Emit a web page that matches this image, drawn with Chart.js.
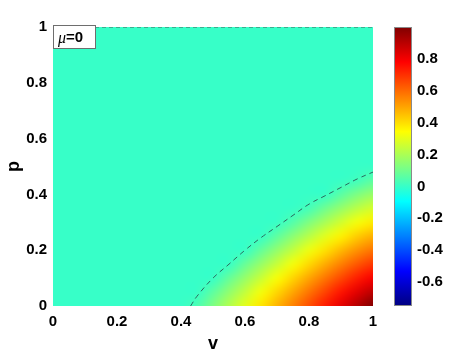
<!DOCTYPE html>
<html>
<head>
<meta charset="utf-8">
<script src="https://cdn.jsdelivr.net/npm/chart.js@4/dist/chart.umd.min.js"></script>
<style>
  body { margin: 0; background: #fff; }
  canvas { display: block; }
</style>
</head>
<body>
<canvas id="heat-mu0" width="474" height="355"></canvas>
<script>
// grid of the field, rows = p, columns = v
const vGrid = [0.40, 0.45, 0.50, 0.55, 0.60, 0.65, 0.70, 0.75, 0.80, 0.85, 0.90, 0.95, 1.00];
const pGrid = [0.00, 0.05, 0.10, 0.15, 0.20, 0.25, 0.30, 0.35, 0.40, 0.45, 0.50];
const field = [
  [0, 0.035, 0.123, 0.211, 0.298, 0.386, 0.474, 0.561, 0.649, 0.737, 0.825, 0.912, 1.000],
  [0, 0, 0.067, 0.153, 0.239, 0.326, 0.412, 0.497, 0.582, 0.666, 0.749, 0.829, 0.896],
  [0, 0, 0, 0.080, 0.164, 0.249, 0.333, 0.416, 0.498, 0.579, 0.658, 0.732, 0.792],
  [0, 0, 0, 0, 0.083, 0.166, 0.248, 0.329, 0.409, 0.487, 0.562, 0.632, 0.688],
  [0, 0, 0, 0, 0, 0.078, 0.159, 0.238, 0.316, 0.391, 0.464, 0.531, 0.583],
  [0, 0, 0, 0, 0, 0, 0.067, 0.145, 0.220, 0.294, 0.364, 0.429, 0.479],
  [0, 0, 0, 0, 0, 0, 0, 0.050, 0.124, 0.195, 0.264, 0.326, 0.375],
  [0, 0, 0, 0, 0, 0, 0, 0, 0.026, 0.096, 0.162, 0.223, 0.271],
  [0, 0, 0, 0, 0, 0, 0, 0, 0, 0, 0.061, 0.120, 0.167],
  [0, 0, 0, 0, 0, 0, 0, 0, 0, 0, 0, 0.017, 0.063],
  [0, 0, 0, 0, 0, 0, 0, 0, 0, 0, 0, 0, 0]
];
const fieldOutside = 0;

// zero contour (dashed)
const contourV = [0.43, 0.45, 0.50, 0.55, 0.60, 0.65, 0.70, 0.75, 0.80, 0.85, 0.90, 0.95, 1.00];
const contourP = [0.00, 0.035, 0.10, 0.15, 0.20, 0.245, 0.285, 0.325, 0.365, 0.395, 0.425, 0.455, 0.48];
const topLineV = [0, 1];
const topLineP = [1, 1];

const xTicks = [0, 0.2, 0.4, 0.6, 0.8, 1];
const yTicks = [0, 0.2, 0.4, 0.6, 0.8, 1];
const cbTicks = [-0.6, -0.4, -0.2, 0, 0.2, 0.4, 0.6, 0.8];
const cbMin = -0.75;
const cbMax = 1.0;
const boxLabel = ['\u03bc', '=0'];

// jet colormap
function jet(val) {
  let t = (val - cbMin) / (cbMax - cbMin);
  t = Math.min(1, Math.max(0, t));
  const c = k => Math.round(255 * Math.min(1, Math.max(0, 1.5 - Math.abs(4 * t - k))));
  return [c(3), c(2), c(1)];
}
const rgb = a => 'rgb(' + a.join(',') + ')';

const tickFont = { family: "'Liberation Sans', Arial, sans-serif", size: 15, weight: 'bold' };
const plainLabel = v => String(v);

// heatmap below the lines
const heatmapPlugin = {
  id: 'heatmap',
  beforeDatasetsDraw(chart) {
    const { ctx, chartArea: a, scales: { x, y } } = chart;
    ctx.save();
    ctx.beginPath();
    ctx.rect(a.left, a.top, a.right - a.left, a.bottom - a.top);
    ctx.clip();
    ctx.fillStyle = rgb(jet(fieldOutside));
    ctx.fillRect(a.left, a.top, a.right - a.left, a.bottom - a.top);

    const w = vGrid.length, h = pGrid.length;
    const off = document.createElement('canvas');
    off.width = w; off.height = h;
    const octx = off.getContext('2d');
    const img = octx.createImageData(w, h);
    for (let i = 0; i < h; i++) {
      const row = h - 1 - i;
      for (let j = 0; j < w; j++) {
        const col = jet(field[i][j]);
        const k = (row * w + j) * 4;
        img.data[k] = col[0]; img.data[k + 1] = col[1]; img.data[k + 2] = col[2]; img.data[k + 3] = 255;
      }
    }
    octx.putImageData(img, 0, 0);
    const dv = vGrid[1] - vGrid[0], dp = pGrid[1] - pGrid[0];
    const x0 = x.getPixelForValue(vGrid[0] - dv / 2);
    const x1 = x.getPixelForValue(vGrid[w - 1] + dv / 2);
    const yT = y.getPixelForValue(pGrid[h - 1] + dp / 2);
    const yB = y.getPixelForValue(pGrid[0] - dp / 2);
    ctx.imageSmoothingEnabled = true;
    ctx.imageSmoothingQuality = 'high';
    ctx.drawImage(off, x0, yT, x1 - x0, yB - yT);
    ctx.restore();
  },
  afterDatasetsDraw(chart) {
    // mu label box
    const { ctx, chartArea: a } = chart;
    ctx.save();
    ctx.fillStyle = '#fff';
    ctx.strokeStyle = '#6e6e6e';
    ctx.lineWidth = 1;
    ctx.fillRect(a.left + 0.5, a.top - 1.5, 42, 23);
    ctx.strokeRect(a.left + 0.5, a.top - 1.5, 42, 23);
    ctx.fillStyle = '#000';
    ctx.textBaseline = 'middle';
    ctx.font = "italic 16px 'Liberation Serif', serif";
    ctx.fillText(boxLabel[0], a.left + 5, a.top + 12);
    const mw = ctx.measureText(boxLabel[0]).width;
    ctx.font = "bold 15px 'Liberation Sans', Arial, sans-serif";
    ctx.fillText(boxLabel[1], a.left + 5 + mw, a.top + 11);
    ctx.restore();
  },
  afterDraw(chart) {
    // colorbar
    const { ctx, scales: { cb } } = chart;
    const top = cb.getPixelForValue(cbMax), bot = cb.getPixelForValue(cbMin);
    const left = cb.left + 21, width = 18;
    const g = ctx.createLinearGradient(0, bot, 0, top);
    for (let i = 0; i <= 64; i++) {
      const t = i / 64;
      g.addColorStop(t, rgb(jet(cbMin + t * (cbMax - cbMin))));
    }
    ctx.save();
    ctx.fillStyle = g;
    ctx.fillRect(left, top, width, bot - top);
    ctx.strokeStyle = '#8a8a8a';
    ctx.lineWidth = 1;
    ctx.strokeRect(left + 0.5, top + 0.5, width - 1, bot - top - 1);
    ctx.restore();
  }
};

const ctx = document.getElementById('heat-mu0').getContext('2d');
const heatChart = new Chart(ctx, {
  type: 'line',
  data: {
    datasets: [{
      label: 'contour',
      data: contourV.map((v, i) => ({ x: v, y: contourP[i] })),
      borderColor: '#2b6a5e',
      borderWidth: 1,
      borderDash: [5, 4],
      pointRadius: 0,
      tension: 0.4,
      fill: false
    }, {
      label: 'top',
      data: topLineV.map((v, i) => ({ x: v, y: topLineP[i] })),
      borderColor: '#3d5f58',
      borderWidth: 1,
      borderDash: [4, 3],
      pointRadius: 0,
      fill: false
    }]
  },
  options: {
    responsive: false,
    animation: false,
    layout: { padding: { top: 27, right: 0, bottom: 0, left: 0 } },
    scales: {
      x: {
        type: 'linear',
        min: 0,
        max: 1,
        afterBuildTicks: s => { s.ticks = xTicks.map(v => ({ value: v })); },
        afterFit: s => { s.height = 49; s.paddingLeft = 0; s.paddingRight = 0; },
        grid: { display: false, drawTicks: false },
        border: { display: false },
        ticks: { color: '#000', font: tickFont, padding: 7, maxRotation: 0, callback: plainLabel },
        title: {
          display: true, text: 'v', color: '#000',
          font: { family: "'Liberation Sans', Arial, sans-serif", size: 18, weight: 'bold' },
          padding: { top: 0, bottom: 0 }
        }
      },
      y: {
        type: 'linear',
        min: 0,
        max: 1,
        afterBuildTicks: s => { s.ticks = yTicks.map(v => ({ value: v })); },
        afterFit: s => { s.width = 53; s.paddingTop = 0; s.paddingBottom = 0; },
        grid: { display: false, drawTicks: false },
        border: { display: false },
        ticks: { color: '#000', font: tickFont, padding: 6, callback: plainLabel },
        title: {
          display: true, text: 'p', color: '#000',
          font: { family: "'Liberation Sans', Arial, sans-serif", size: 18, weight: 'bold' },
          padding: { top: 3, bottom: 0 }
        }
      },
      cb: {
        type: 'linear',
        axis: 'y',
        position: 'right',
        min: cbMin,
        max: cbMax,
        afterBuildTicks: s => { s.ticks = cbTicks.map(v => ({ value: v })); },
        afterFit: s => { s.width = 101; s.paddingTop = 0; s.paddingBottom = 0; },
        grid: { display: false, drawTicks: false },
        border: { display: false },
        ticks: { color: '#000', font: tickFont, padding: 44, callback: plainLabel }
      }
    },
    plugins: {
      legend: { display: false },
      tooltip: { enabled: false }
    }
  },
  plugins: [heatmapPlugin]
});
</script>
</body>
</html>
